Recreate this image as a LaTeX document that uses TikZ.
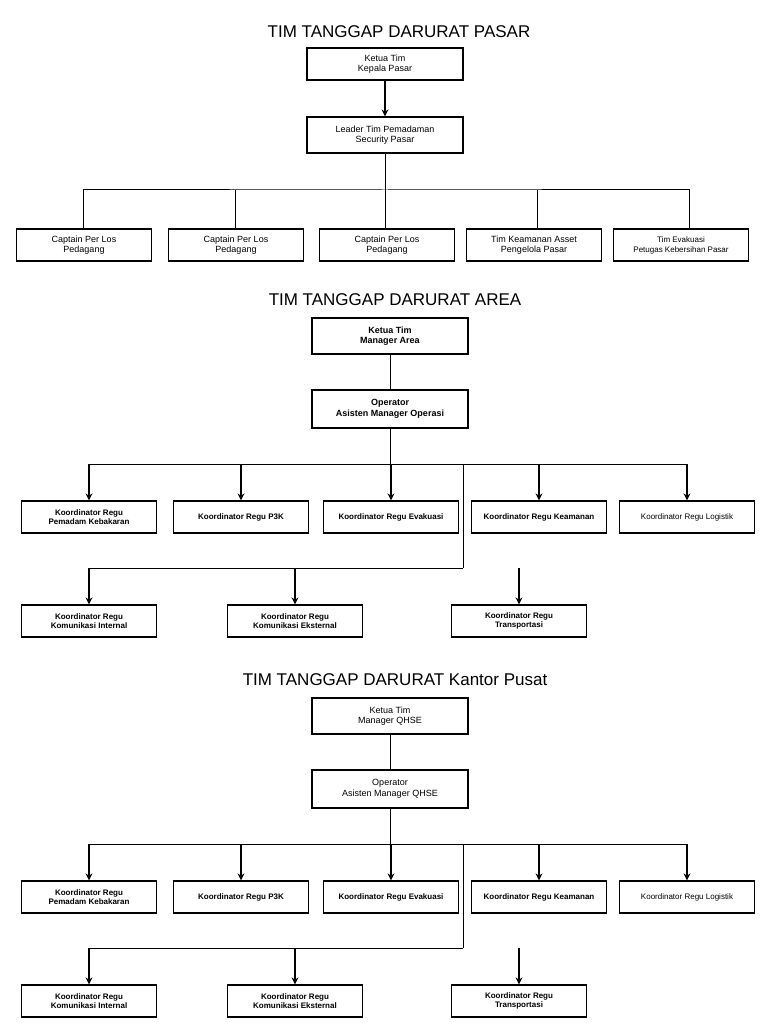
\documentclass[tikz,border=0pt]{standalone}
\usetikzlibrary{arrows.meta}
\usepackage{fontspec}
\setmainfont{Liberation Sans}
\begin{document}
\begin{tikzpicture}[x=1pt,y=-1pt,
 box/.style={draw,line width=1.2pt,minimum width=#1,minimum height=32,align=center,inner sep=1pt,font=\fontsize{9}{10}\selectfont,fill=white},
 box/.default=135,
 kbox/.style={box=#1,font=\fontsize{8}{9}\selectfont\bfseries},
 kbox/.default=135,
 title/.style={font=\fontsize{17}{19}\selectfont},
 ln/.style={line width=1pt},
 arr/.style={line width=1.2pt,-{Stealth[length=7pt,width=7pt]}}]
\useasboundingbox (0,0) rectangle (768,1024);
% section 1
\node[title] (t1) at (399,32) {TIM TANGGAP DARURAT PASAR};
\node[box=156,minimum height=32] (k1) at (385,64) {Ketua Tim\\Kepala Pasar};
\node[box=156,minimum height=36] (l1) at (385,135) {Leader Tim Pemadaman\\Security Pasar};
\draw[arr] (k1) -- (l1);
\node[box] (c1) at (84,245) {Captain Per Los\\Pedagang};
\node[box] (c2) at (236,245) {Captain Per Los\\Pedagang};
\node[box] (c3) at (387,245) {Captain Per Los\\Pedagang};
\node[box] (c4) at (534,245) {Tim Keamanan Asset\\Pengelola Pasar};
\node[box,font=\fontsize{8}{10}\selectfont] (c5) at (681,245) {Tim Evakuasi\\Petugas Kebersihan Pasar};
\coordinate (b1) at (385,190);
\draw[ln] (l1.south) -- (c3.north -| l1.south);
\draw[ln] (c1.north -| 83,0) |- (b1) -| (c5.north -| 689,0);
\draw[ln] (235,190) -- (c2.north -| 235,0);
\draw[ln] (537,190) -- (c4.north -| 537,0);
% sections 2 and 3
\foreach \p/\dy/\T/\K/\O/\kf in {a/0/AREA/Manager Area/Asisten Manager Operasi/\bfseries, b/380/Kantor Pusat/Manager QHSE/Asisten Manager QHSE/\relax}{
\begin{scope}[yshift=-\dy]
\node[title] (\p t) at (395,300) {TIM TANGGAP DARURAT \T};
\node[box=156,minimum height=36,font=\fontsize{9}{10.5}\selectfont\kf] (\p k) at (390,336) {Ketua Tim\\\K};
\node[box=156,minimum height=38,font=\fontsize{9}{10.5}\selectfont\kf] (\p o) at (390,409) {Operator\\\O};
\draw[ln] (\p k) -- (\p o);
\node[kbox] (\p 1) at (89,517) {Koordinator Regu\\Pemadam Kebakaran};
\node[kbox] (\p 2) at (241,517) {Koordinator Regu P3K};
\node[kbox] (\p 3) at (391,517) {Koordinator Regu Evakuasi};
\node[kbox] (\p 4) at (539,517) {Koordinator Regu Keamanan};
\node[kbox,font=\fontsize{8}{9}\selectfont] (\p 5) at (687,517) {Koordinator Regu Logistik};
\node[kbox] (\p 6) at (89,621) {Koordinator Regu\\Komunikasi Internal};
\node[kbox] (\p 7) at (295,621) {Koordinator Regu\\Komunikasi Eksternal};
\node[kbox] (\p 8) at (519,621) {Koordinator Regu\\Transportasi};
\coordinate (\p b) at (390,464);
\coordinate (\p j) at (463,464);
\coordinate (\p c) at (463,568);
\draw[ln] (\p o) -- (\p b);
\draw[ln] (89,464) -- (687,464);
\foreach \n in {1,...,5} \draw[arr] (\p b -| \p \n) -- (\p \n);
\draw[ln] (\p j) -- (\p c);
\draw[ln] (89,568) -- (\p c);
\foreach \n in {6,7,8} \draw[arr] (\p c -| \p \n) -- (\p \n);
\end{scope}}
\end{tikzpicture}
\end{document}
